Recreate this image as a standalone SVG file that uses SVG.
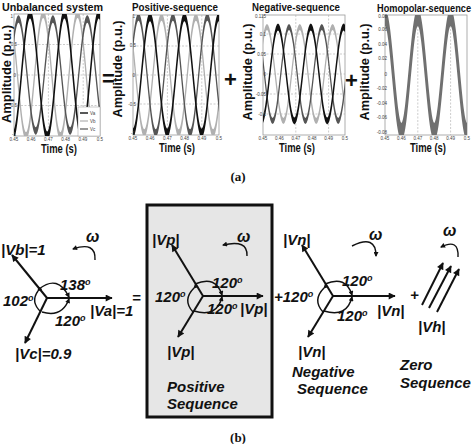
<svg xmlns="http://www.w3.org/2000/svg" xmlns:xlink="http://www.w3.org/1999/xlink" width="474" height="444" viewBox="0 0 474 444">
<style>
.ttl{font-family:"Liberation Sans",Arial,sans-serif;font-weight:bold;font-size:11.5px;fill:#111}
.ax{font-family:"Liberation Sans",Arial,sans-serif;font-weight:bold;font-size:12px;fill:#111}
.tk{font-family:"Liberation Sans",Arial,sans-serif;font-size:4.5px;fill:#444}
.frame{fill:#fff;stroke:#999;stroke-width:0.8}
.grid{stroke:#aaa;stroke-width:0.6;stroke-dasharray:2 1.5;fill:none}
.wv{fill:none;vector-effect:non-scaling-stroke}
.va{stroke:#111;stroke-width:1.5}
.vb{stroke:#b0b0b0;stroke-width:1.3}
.vc{stroke:#555;stroke-width:1.3}
.vh{stroke:#707070;stroke-width:3}
.lb{font-family:"Liberation Sans",Arial,sans-serif;font-weight:bold;font-style:italic;font-size:15px;fill:#111}
.om{font-family:"Liberation Sans",Arial,sans-serif;font-weight:bold;font-style:italic;font-size:16px;fill:#111}
.sym{font-family:"Liberation Sans",Arial,sans-serif;font-weight:bold;font-size:22px;fill:#111}
.cap{font-family:"Liberation Serif","Times New Roman",serif;font-weight:bold;font-size:13px;fill:#111}
.ph{stroke:#111;stroke-width:2;fill:none}
.arc{stroke:#111;stroke-width:1.4;fill:none}
</style>
<defs>
<path id="w" d="M0,0 c3.343,-5.251 6.395,-10 10,-10 s6.657,4.749 10,10 s6.395,10 10,10 s6.657,-4.749 10,-10 s6.395,-10 10,-10 s6.657,4.749 10,10 s6.395,10 10,10 s6.657,-4.749 10,-10 s6.395,-10 10,-10 s6.657,4.749 10,10 s6.395,10 10,10 s6.657,-4.749 10,-10 s6.395,-10 10,-10 s6.657,4.749 10,10 s6.395,10 10,10 s6.657,-4.749 10,-10 s6.395,-10 10,-10 s6.657,4.749 10,10 s6.395,10 10,10 s6.657,-4.749 10,-10 s6.395,-10 10,-10"/>
<clipPath id="c1"><rect x="14" y="14" width="86" height="122"/></clipPath>
<clipPath id="c2"><rect x="133" y="15" width="86" height="120"/></clipPath>
<clipPath id="c3"><rect x="263" y="15" width="82" height="120"/></clipPath>
<clipPath id="c4"><rect x="385" y="15" width="82" height="120"/></clipPath>
<marker id="ah" viewBox="0 0 10 10" refX="9" refY="5" markerWidth="9" markerHeight="7" markerUnits="userSpaceOnUse" orient="auto"><path d="M0,0 L10,5 L0,10 z" fill="#111"/></marker>
<marker id="sh" viewBox="0 0 10 10" refX="8" refY="5" markerWidth="6" markerHeight="5" markerUnits="userSpaceOnUse" orient="auto"><path d="M0,0 L10,5 L0,10 z" fill="#111"/></marker>
</defs>

<!-- (a) waveform plots -->
<g id="plot-unbalanced">
<text class="ttl" x="2" y="11" textLength="101" lengthAdjust="spacingAndGlyphs">Unbalanced system</text>
<rect class="frame" x="14" y="14" width="86" height="122"/>
<path class="grid" d="M14,44.5H100M14,75H100M14,105.5H100M48.4,14V136M83.2,14V136"/>
<g clip-path="url(#c1)">
<use xlink:href="#w" class="wv vb" transform="translate(0.2,75) scale(0.86,6.1)"/>
<use xlink:href="#w" class="wv vc" transform="translate(9.9,75) scale(0.86,5.6)"/>
<use xlink:href="#w" class="wv va" transform="translate(-13,75) scale(0.86,6.1)"/>
</g>
<rect x="78" y="107" width="22" height="29" fill="#fff" stroke="#999" stroke-width="0.5"/>
<line x1="80" y1="113" x2="88" y2="113" stroke="#111" stroke-width="1.4"/>
<line x1="80" y1="121" x2="88" y2="121" stroke="#b0b0b0" stroke-width="1.2"/>
<line x1="80" y1="129" x2="88" y2="129" stroke="#555" stroke-width="1.2"/>
<text class="tk" x="90" y="114.5">Va</text><text class="tk" x="90" y="122.5">Vb</text><text class="tk" x="90" y="130.5">Vc</text>
<g class="tk" text-anchor="end"><text x="13" y="18">1</text><text x="17" y="46">0.5</text><text x="16" y="77">0</text><text x="17" y="107">-0.5</text><text x="16" y="136">-1</text></g>
<g class="tk" text-anchor="middle"><text x="14" y="141">0.45</text><text x="31.2" y="141">0.46</text><text x="48.4" y="141">0.47</text><text x="65.6" y="141">0.48</text><text x="82.8" y="141">0.49</text><text x="100" y="141">0.5</text></g>
<text class="ax" x="59" y="153" text-anchor="middle" textLength="36" lengthAdjust="spacingAndGlyphs">Time (s)</text>
<text class="ax" transform="translate(11,74) rotate(-90)" text-anchor="middle" textLength="98" lengthAdjust="spacingAndGlyphs">Amplitude (p.u.)</text>
</g>

<g id="plot-positive">
<text class="ttl" x="132" y="11" textLength="86" lengthAdjust="spacingAndGlyphs">Positive-sequence</text>
<rect class="frame" x="133" y="15" width="86" height="120"/>
<path class="grid" d="M133,46H219M133,75H219M133,104H219M167.4,15V135M201.8,15V135"/>
<g clip-path="url(#c2)">
<use xlink:href="#w" class="wv vb" transform="translate(118.5,75) scale(0.86,5.8)"/>
<use xlink:href="#w" class="wv vc" transform="translate(129.9,75) scale(0.86,5.8)"/>
<use xlink:href="#w" class="wv va" transform="translate(107,75) scale(0.86,5.8)"/>
</g>
<g class="tk" text-anchor="end"><text x="135" y="18">1</text><text x="136" y="47">0.5</text><text x="135" y="77">0</text><text x="136" y="106">-0.5</text><text x="135" y="135">-1</text></g>
<g class="tk" text-anchor="middle"><text x="133" y="140">0.45</text><text x="150.2" y="140">0.46</text><text x="167.4" y="140">0.47</text><text x="184.6" y="140">0.48</text><text x="201.8" y="140">0.49</text><text x="219" y="140">0.5</text></g>
<text class="ax" x="177" y="152" text-anchor="middle" textLength="36" lengthAdjust="spacingAndGlyphs">Time (s)</text>
<text class="ax" transform="translate(122,69) rotate(-90)" text-anchor="middle" textLength="97" lengthAdjust="spacingAndGlyphs">Amplitude (p.u.)</text>
</g>

<g id="plot-negative">
<text class="ttl" x="252" y="11" textLength="88" lengthAdjust="spacingAndGlyphs">Negative-sequence</text>
<rect class="frame" x="263" y="15" width="82" height="120"/>
<path class="grid" d="M263,34H345M263,54H345M263,74H345M263,94H345M263,114H345M295.8,15V135M328.6,15V135"/>
<g clip-path="url(#c3)">
<use xlink:href="#w" class="wv vb" transform="translate(258.8,74) scale(0.82,4.7)"/>
<use xlink:href="#w" class="wv vc" transform="translate(248,74) scale(0.82,4.7)"/>
<use xlink:href="#w" class="wv va" transform="translate(237,74) scale(0.82,4.7)"/>
</g>
<g class="tk" text-anchor="end"><text x="266" y="18">0.115</text><text x="266" y="35.5">0.1</text><text x="266" y="55.5">0.05</text><text x="266" y="75.5">0</text><text x="266" y="95.5">-0.05</text><text x="266" y="115.5">-0.1</text></g>
<g class="tk" text-anchor="middle"><text x="263" y="140">0.45</text><text x="279.4" y="140">0.46</text><text x="295.8" y="140">0.47</text><text x="312.2" y="140">0.48</text><text x="328.6" y="140">0.49</text><text x="345" y="140">0.5</text></g>
<text class="ax" x="297" y="152" text-anchor="middle" textLength="36" lengthAdjust="spacingAndGlyphs">Time (s)</text>
<text class="ax" transform="translate(252,72) rotate(-90)" text-anchor="middle" textLength="97" lengthAdjust="spacingAndGlyphs">Amplitude (p.u.)</text>
</g>

<g id="plot-homopolar">
<text class="ttl" transform="translate(377,11.5) scale(0.8,1)" x="0" y="0">Homopolar-sequence</text>
<rect class="frame" x="385" y="15" width="82" height="120"/>
<path class="grid" d="M417.8,15V135M450.6,15V135"/>
<g clip-path="url(#c4)">
<use xlink:href="#w" class="wv vh" transform="translate(344,74.5) scale(0.82,5.7)"/>
</g>
<g class="tk" text-anchor="end"><text x="387" y="18">0.08</text><text x="387" y="31">0.06</text><text x="387" y="45.5">0.04</text><text x="387" y="60">0.02</text><text x="387" y="75.5">0</text><text x="387" y="90">-0.02</text><text x="387" y="104.5">-0.04</text><text x="387" y="119">-0.06</text><text x="387" y="134">-0.08</text></g>
<g class="tk" text-anchor="middle"><text x="385" y="140">0.45</text><text x="401.4" y="140">0.46</text><text x="417.8" y="140">0.47</text><text x="434.2" y="140">0.48</text><text x="450.6" y="140">0.49</text><text x="467" y="140">0.5</text></g>
<text class="ax" x="428" y="152" text-anchor="middle" textLength="36" lengthAdjust="spacingAndGlyphs">Time (s)</text>
<text class="ax" transform="translate(369,72) rotate(-90)" text-anchor="middle" textLength="97" lengthAdjust="spacingAndGlyphs">Amplitude (p.u.)</text>
</g>

<g id="ops-a">
<text class="sym" x="102" y="86">=</text>
<text class="sym" x="224" y="87">+</text>
<text class="sym" x="345" y="88">+</text>
</g>
<text class="cap" x="238" y="181" text-anchor="middle">(a)</text>

<!-- (b) phasor diagrams -->
<g id="unbalanced-phasors">
<line class="ph" x1="47" y1="298" x2="112" y2="298" marker-end="url(#ah)"/>
<line class="ph" x1="47" y1="298" x2="12" y2="255" marker-end="url(#ah)"/>
<line class="ph" x1="47" y1="298" x2="25" y2="343" marker-end="url(#ah)"/>
<path class="arc" d="M39,289 Q58,274 69,297" marker-end="url(#sh)"/>
<path class="arc" d="M38,291 Q30,302 41,312" marker-start="url(#sh)"/>
<path class="arc" d="M42,312 Q62,318 69,299" marker-end="url(#sh)"/>
<path class="arc" d="M95,260 Q96,241 73,249" marker-end="url(#sh)"/>
<text class="om" x="86" y="242">ω</text>
<text class="lb" x="1" y="255">|Vb|=1</text>
<text class="lb" x="60" y="290">138<tspan dy="-5" font-size="9">o</tspan></text>
<text class="lb" x="3" y="306">102<tspan dy="-5" font-size="9">o</tspan></text>
<text class="lb" x="55" y="326">120<tspan dy="-5" font-size="9">o</tspan></text>
<text class="lb" x="90" y="316">|Va|=1</text>
<text class="lb" x="15" y="359">|Vc|=0.9</text>
</g>
<text class="lb" x="132" y="303">=</text>

<g id="positive-sequence">
<rect x="147" y="205" width="125" height="212" fill="#e6e6e6" stroke="#111" stroke-width="3"/>
<line class="ph" x1="203" y1="296" x2="263" y2="296" marker-end="url(#ah)"/>
<line class="ph" x1="203" y1="296" x2="172" y2="245" marker-end="url(#ah)"/>
<line class="ph" x1="203" y1="296" x2="178" y2="337" marker-end="url(#ah)"/>
<path class="arc" d="M195,284 Q216,275 222,295" marker-end="url(#sh)"/>
<path class="arc" d="M194,288 Q182,300 193,312" marker-start="url(#sh)"/>
<path class="arc" d="M194,311 Q217,318 222,297" marker-end="url(#sh)"/>
<path class="arc" d="M247,256 Q248,239 223,245" marker-end="url(#sh)"/>
<text class="om" x="237" y="242">ω</text>
<text class="lb" x="152" y="245">|Vp|</text>
<text class="lb" x="212" y="288">120<tspan dy="-5" font-size="9">o</tspan></text>
<text class="lb" x="155" y="302">120<tspan dy="-5" font-size="9">o</tspan></text>
<text class="lb" x="207" y="314">120<tspan dy="-5" font-size="9">o</tspan></text>
<text class="lb" x="240" y="314">|Vp|</text>
<text class="lb" x="167" y="357">|Vp|</text>
<text class="lb" x="167" y="392">Positive</text>
<text class="lb" x="167" y="409">Sequence</text>
</g>

<g id="negative-sequence">
<line class="ph" x1="333" y1="296" x2="395" y2="296" marker-end="url(#ah)"/>
<line class="ph" x1="333" y1="296" x2="302" y2="245" marker-end="url(#ah)"/>
<line class="ph" x1="333" y1="296" x2="308" y2="337" marker-end="url(#ah)"/>
<path class="arc" d="M325,284 Q346,275 352,295" marker-end="url(#sh)"/>
<path class="arc" d="M324,288 Q312,300 323,312" marker-start="url(#sh)"/>
<path class="arc" d="M324,311 Q347,318 352,297" marker-end="url(#sh)"/>
<path class="arc" d="M352,246 Q376,234 376,256" marker-end="url(#sh)"/>
<text class="om" x="369" y="240">ω</text>
<text class="lb" x="274" y="302">+120<tspan dy="-5" font-size="9">o</tspan></text>
<text class="lb" x="283" y="245">|Vn|</text>
<text class="lb" x="342" y="286">120<tspan dy="-5" font-size="9">o</tspan></text>
<text class="lb" x="337" y="321">120<tspan dy="-5" font-size="9">o</tspan></text>
<text class="lb" x="377" y="316">|Vn|</text>
<text class="lb" x="298" y="357">|Vn|</text>
<text class="lb" x="292" y="377">Negative</text>
<text class="lb" x="297" y="394">Sequence</text>
</g>
<text class="lb" x="410" y="300">+</text>

<g id="zero-sequence">
<line class="ph" x1="422" y1="305" x2="443" y2="263" marker-end="url(#ah)"/>
<line class="ph" x1="429" y1="308" x2="451" y2="266" marker-end="url(#ah)"/>
<line class="ph" x1="437" y1="312" x2="459" y2="269" marker-end="url(#ah)"/>
<path class="arc" d="M458,257 Q459,238 441,247" marker-end="url(#sh)"/>
<text class="om" x="443" y="236">ω</text>
<text class="lb" x="418" y="332">|Vh|</text>
<text class="lb" x="400" y="370">Zero</text>
<text class="lb" x="400" y="388">Sequence</text>
</g>
<text class="cap" x="238" y="442" text-anchor="middle">(b)</text>
</svg>
